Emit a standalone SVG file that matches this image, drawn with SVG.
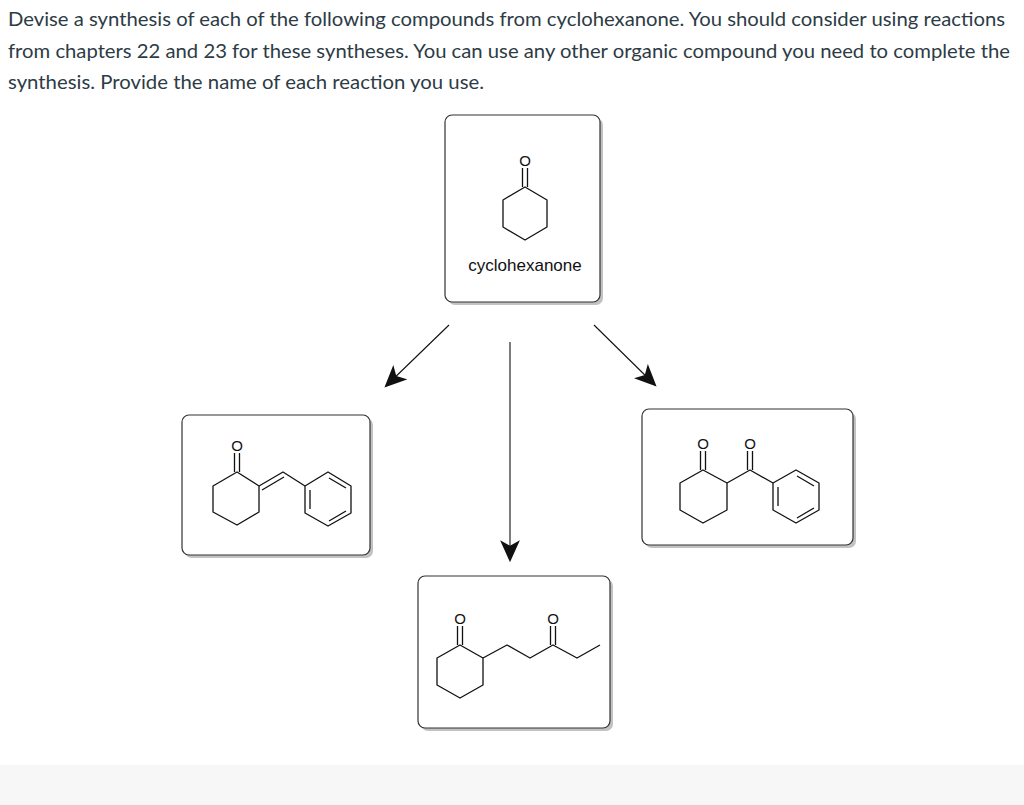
<svg xmlns="http://www.w3.org/2000/svg" width="1024" height="805" viewBox="0 0 1024 805">
<defs>
<style>
.t{font-family:Lato,"Liberation Sans",sans-serif;font-size:19px;fill:#2d3b45}
.box{fill:#fff;stroke:#333;stroke-width:1.2}
.sh{fill:#999;opacity:0.6}
.b{fill:none;stroke:#111;stroke-width:1.3;stroke-linejoin:round}
.o{font-family:"Liberation Sans",Arial,sans-serif;font-size:15px;fill:#111;text-anchor:middle}
.c{stroke:#111;stroke-width:1.1;fill:none}
</style>
<marker id="ah" viewBox="0 0 10 10" refX="9" refY="5" markerWidth="22" markerHeight="22" markerUnits="userSpaceOnUse" orient="auto"><path d="M0,0.5 L10,5 L0,9.5 L2.5,5 Z" fill="#111"/></marker>
</defs>
<rect width="1024" height="805" fill="#fff"/>
<rect y="765" width="1024" height="40" fill="#f7f7f7"/>
<text class="t" x="8" y="26" textLength="997" lengthAdjust="spacingAndGlyphs">Devise a synthesis of each of the following compounds from cyclohexanone. You should consider using reactions</text>
<text class="t" x="8" y="58" textLength="1002" lengthAdjust="spacingAndGlyphs">from chapters 22 and 23 for these syntheses. You can use any other organic compound you need to complete the</text>
<text class="t" x="8" y="89" textLength="476" lengthAdjust="spacingAndGlyphs">synthesis. Provide the name of each reaction you use.</text>

<g id="cyclohexanone">
<rect class="sh" x="448" y="118" width="155" height="187" rx="7"/>
<rect class="box" x="445" y="115" width="155" height="187" rx="7"/>
<path class="b" d="M525,187 L547,200 L547,227 L525,240 L503,227 L503,200 Z"/>
<path class="b" d="M522.5,187 V168 M527.5,187 V168"/>
<text class="o" x="525" y="166">O</text>
<text x="525" y="271" font-family="'Liberation Sans',Arial,sans-serif" font-size="17" fill="#111" text-anchor="middle">cyclohexanone</text>
</g>

<g id="benzylidene">
<rect class="sh" x="185" y="418" width="188" height="140" rx="7"/>
<rect class="box" x="182" y="415" width="188" height="140" rx="7"/>
<path class="b" d="M237,472 L259,486 L259,512 L237,525 L213,512 L213,486 Z"/>
<path class="b" d="M234.5,472 V453 M239.5,472 V453"/>
<text class="o" x="237" y="451">O</text>
<path class="b" d="M259,486 L283,472 L305,486 M262,490 L284,477"/>
<path class="b" d="M305,486 L328,472 L351,486 L351,513 L328,526 L305,513 Z M329,478 L346,488 M346,511 L329,521 M310,490 V509"/>
</g>

<g id="diketone">
<rect class="sh" x="645" y="412" width="211" height="136" rx="7"/>
<rect class="box" x="642" y="409" width="211" height="136" rx="7"/>
<path class="b" d="M703,470 L727,483 L727,510 L703,523 L680,510 L680,483 Z"/>
<path class="b" d="M700.5,470 V451 M705.5,470 V451"/>
<text class="o" x="703" y="449">O</text>
<path class="b" d="M727,483 L750,470 L773,483 M747.5,470 V451 M752.5,470 V451"/>
<text class="o" x="750" y="449">O</text>
<path class="b" d="M773,483 L796,470 L819,483 L819,510 L796,523 L773,510 Z M797,476 L814,486 M814,508 L797,518 M778,487 V506"/>
</g>

<g id="michael">
<rect class="sh" x="421" y="579" width="192" height="152" rx="7"/>
<rect class="box" x="418" y="576" width="192" height="152" rx="7"/>
<path class="b" d="M460,645 L483,658 L483,685 L460,698 L437,685 L437,658 Z"/>
<path class="b" d="M457.5,645 V626 M462.5,645 V626"/>
<text class="o" x="460" y="624">O</text>
<path class="b" d="M483,658 L507,645 L530,658 L553,645 L577,658 L600,645 M550.5,645 V626 M555.5,645 V626"/>
<text class="o" x="553" y="624">O</text>
</g>

<g id="connectors">
<line class="c" x1="449" y1="325" x2="386" y2="386" marker-end="url(#ah)"/>
<line class="c" x1="510" y1="342" x2="510" y2="560" marker-end="url(#ah)"/>
<line class="c" x1="594" y1="325" x2="655" y2="385" marker-end="url(#ah)"/>
</g>
</svg>
